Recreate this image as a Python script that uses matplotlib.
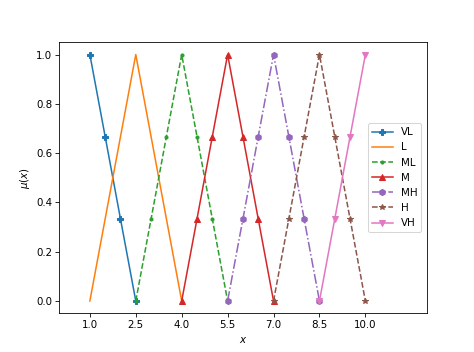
import matplotlib
matplotlib.use('Agg')
import matplotlib.pyplot as plt

labels = ['VL', 'L', 'ML', 'M', 'MH', 'H', 'VH']

x_vl = [1.0, 1.5, 2.0, 2.5]
mu_vl = [1.0, 0.667, 0.333, 0.0]

x_l = [1.0, 2.5, 4.0]
mu_l = [0.0, 1.0, 0.0]

x_ml = [2.5, 3.0, 3.5, 4.0, 4.5, 5.0, 5.5]
mu_ml = [0.0, 0.333, 0.667, 1.0, 0.667, 0.333, 0.0]

x_m = [4.0, 4.5, 5.0, 5.5, 6.0, 6.5, 7.0]
mu_m = [0.0, 0.333, 0.667, 1.0, 0.667, 0.333, 0.0]

x_mh = [5.5, 6.0, 6.5, 7.0, 7.5, 8.0, 8.5]
mu_mh = [0.0, 0.333, 0.667, 1.0, 0.667, 0.333, 0.0]

x_h = [7.0, 7.5, 8.0, 8.5, 9.0, 9.5, 10.0]
mu_h = [0.0, 0.333, 0.667, 1.0, 0.667, 0.333, 0.0]

x_vh = [8.5, 9.0, 9.5, 10.0]
mu_vh = [0.0, 0.333, 0.667, 1.0]

xticks = [1.0, 2.5, 4.0, 5.5, 7.0, 8.5, 10.0]

fig = plt.figure(figsize=(474 / 74, 352 / 74), dpi=74)
ax = fig.add_subplot(111)

ax.plot(x_vl, mu_vl, 'P-', label='VL')
ax.plot(x_l, mu_l, '-', label='L')
ax.plot(x_ml, mu_ml, '.--', label='ML')
ax.plot(x_m, mu_m, '^-', label='M')
ax.plot(x_mh, mu_mh, 'h-.', label='MH')
ax.plot(x_h, mu_h, '*--', label='H')
ax.plot(x_vh, mu_vh, 'v-', label='VH')

ax.set_xlim(0, 12)
ax.set_xticks(xticks)
ax.set_xlabel('$x$')
ax.set_ylabel(r'$\mu(x)$')
ax.legend(loc='center right')

fig.savefig('out.png', dpi=74)
